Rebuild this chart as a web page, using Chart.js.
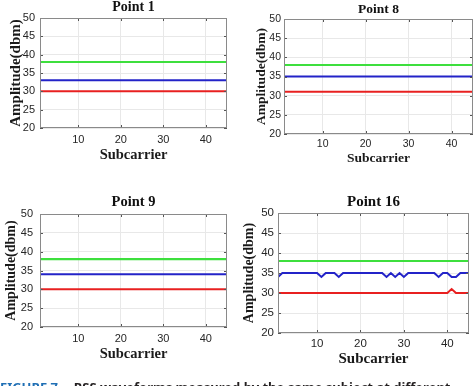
<!DOCTYPE html>
<html><head><meta charset="utf-8">
<script src="https://cdn.jsdelivr.net/npm/chart.js@4.4.0/dist/chart.umd.min.js"></script>
<style>
html,body{margin:0;padding:0;background:#fff;}
body{width:474px;height:386px;position:relative;overflow:hidden;}
canvas{position:absolute;left:0;top:0;}
#cap{position:absolute;left:0;top:379px;white-space:nowrap;font-family:"Noto Sans";font-weight:bold;font-size:13px;line-height:16px;color:#231f20;}
#cap .fig{color:#1f6fb5;margin-right:12px;}
</style></head><body>
<canvas id="c0" width="474" height="386"></canvas>
<canvas id="c1" width="474" height="386"></canvas>
<canvas id="c2" width="474" height="386"></canvas>
<canvas id="c3" width="474" height="386"></canvas>
<div id="cap"><span class="fig">FIGURE 7.</span>RSS waveforms measured by the same subject at different</div>
<script>
// ---------- DATA ----------
const subcarriers = [1,2,3,4,5,6,7,8,9,10,11,12,13,14,15,16,17,18,19,20,21,22,23,24,25,26,27,28,29,30,31,32,33,34,35,36,37,38,39,40,41,42,43,44,45];
const xTickValues = [10,20,30,40];
const yTickValues = [20,25,30,35,40,45,50];
const chartTitles = ['Point 1','Point 8','Point 9','Point 16'];
const xAxisTitle = 'Subcarrier';
const yAxisTitle = 'Amplitude(dbm)';

const point1Green = [38,38,38,38,38,38,38,38,38,38,38,38,38,38,38,38,38,38,38,38,38,38,38,38,38,38,38,38,38,38,38,38,38,38,38,38,38,38,38,38,38,38,38,38,38];
const point1Blue  = [33,33,33,33,33,33,33,33,33,33,33,33,33,33,33,33,33,33,33,33,33,33,33,33,33,33,33,33,33,33,33,33,33,33,33,33,33,33,33,33,33,33,33,33,33];
const point1Red   = [30,30,30,30,30,30,30,30,30,30,30,30,30,30,30,30,30,30,30,30,30,30,30,30,30,30,30,30,30,30,30,30,30,30,30,30,30,30,30,30,30,30,30,30,30];

const point8Green = [38,38,38,38,38,38,38,38,38,38,38,38,38,38,38,38,38,38,38,38,38,38,38,38,38,38,38,38,38,38,38,38,38,38,38,38,38,38,38,38,38,38,38,38,38];
const point8Blue  = [35,35,35,35,35,35,35,35,35,35,35,35,35,35,35,35,35,35,35,35,35,35,35,35,35,35,35,35,35,35,35,35,35,35,35,35,35,35,35,35,35,35,35,35,35];
const point8Red   = [31,31,31,31,31,31,31,31,31,31,31,31,31,31,31,31,31,31,31,31,31,31,31,31,31,31,31,31,31,31,31,31,31,31,31,31,31,31,31,31,31,31,31,31,31];

const point9Green = [38,38,38,38,38,38,38,38,38,38,38,38,38,38,38,38,38,38,38,38,38,38,38,38,38,38,38,38,38,38,38,38,38,38,38,38,38,38,38,38,38,38,38,38,38];
const point9Blue  = [34,34,34,34,34,34,34,34,34,34,34,34,34,34,34,34,34,34,34,34,34,34,34,34,34,34,34,34,34,34,34,34,34,34,34,34,34,34,34,34,34,34,34,34,34];
const point9Red   = [30,30,30,30,30,30,30,30,30,30,30,30,30,30,30,30,30,30,30,30,30,30,30,30,30,30,30,30,30,30,30,30,30,30,30,30,30,30,30,30,30,30,30,30,30];

const point16Green = [38,38,38,38,38,38,38,38,38,38,38,38,38,38,38,38,38,38,38,38,38,38,38,38,38,38,38,38,38,38,38,38,38,38,38,38,38,38,38,38,38,38,38,38,38];
const point16Blue  = [34,35,35,35,35,35,35,35,35,35,34,35,35,35,34,35,35,35,35,35,35,35,35,35,35,34,35,34,35,34,35,35,35,35,35,35,35,34,35,35,34,34,35,35,35];
const point16Red   = [30,30,30,30,30,30,30,30,30,30,30,30,30,30,30,30,30,30,30,30,30,30,30,30,30,30,30,30,30,30,30,30,30,30,30,30,30,30,30,30,31,30,30,30,30];

const seriesByChart = [
  [point1Green, point1Blue, point1Red],
  [point8Green, point8Blue, point8Red],
  [point9Green, point9Blue, point9Red],
  [point16Green, point16Blue, point16Red]
];

// ---------- STYLE / LAYOUT ----------
const lineColors = ['#3ddf3d', '#2323c8', '#e82020'];
const lineWidths = [2.2, 2, 2];
const W = 474, H = 386;
const geo = [
  {plot:[40,18,227,128],  titleY:7,   yTitleX:16,   yPad:5,   xTickY:139.5, xTitleY:155.5, tf:14,   yf:15,   xf:14.5, tk:11},
  {plot:[284,19,473,134], titleY:10,  yTitleX:262,  yPad:3,   xTickY:144,   xTitleY:158.3, tf:13.5, yf:13.5, xf:13.5, tk:10.5},
  {plot:[40,214,227,327], titleY:202, yTitleX:11.5, yPad:7,   xTickY:338.8, xTitleY:354.3, tf:14.5, yf:14,   xf:14.5, tk:11},
  {plot:[278,213,469,333],titleY:202, yTitleX:249,  yPad:4,   xTickY:344,   xTitleY:358.7, tf:15,   yf:14,   xf:15,   tk:11.5}
];
const serif = 'Liberation Serif';
const sans = 'Liberation Sans';

const boxPlugin = {
  id: 'matlabBox',
  afterDraw(chart) {
    const ctx = chart.ctx;
    const a = chart.chartArea;
    const l = Math.round(a.left), t = Math.round(a.top), r = Math.round(a.right), b = Math.round(a.bottom);
    ctx.save();
    ctx.strokeStyle = '#555';
    ctx.lineWidth = 1;
    ctx.beginPath();
    const xs = chart.scales.x, ys = chart.scales.y;
    xs.ticks.forEach(tk => {
      const px = Math.round(xs.getPixelForValue(tk.value)) + 0.5;
      ctx.moveTo(px, b); ctx.lineTo(px, b - 3);
      ctx.moveTo(px, t); ctx.lineTo(px, t + 3);
    });
    ys.ticks.forEach(tk => {
      const py = Math.round(ys.getPixelForValue(tk.value)) + 0.5;
      ctx.moveTo(l, py); ctx.lineTo(l + 3, py);
      ctx.moveTo(r, py); ctx.lineTo(r - 3, py);
    });
    ctx.stroke();
    ctx.strokeStyle = '#8a8a8a';
    ctx.strokeRect(l + 0.5, t + 0.5, r - l - 1, b - t - 1);
    ctx.restore();
  }
};

seriesByChart.forEach((series, i) => {
  const g = geo[i];
  const [pl, pt, pr, pb] = g.plot;
  const padLeft = g.yTitleX - g.yf / 2;
  const yW = pl - padLeft;
  const tickLH = g.tk * 1.2;
  const xTickPad = g.xTickY - pb - tickLH / 2;
  const xBottom = g.xTitleY + g.xf / 2;
  const xH = xBottom - pb;
  const padBottom = H - xBottom;
  const padTop = Math.max(0, g.titleY - g.tf / 2);
  const topH = pt - padTop;
  const padRight = W - pr;

  new Chart(document.getElementById('c' + i), {
    type: 'line',
    data: {
      labels: subcarriers,
      datasets: series.map((d, k) => ({
        data: d,
        borderColor: lineColors[k],
        borderWidth: lineWidths[k],
        pointRadius: 0,
        tension: 0,
        fill: false
      }))
    },
    options: {
      responsive: false,
      animation: false,
      events: [],
      layout: {padding: {left: padLeft, right: padRight, top: padTop, bottom: padBottom}},
      plugins: {legend: {display: false}, tooltip: {enabled: false}, title: {display: false}},
      scales: {
        x: {
          type: 'linear', position: 'bottom', min: 1, max: 45,
          afterBuildTicks: s => { s.ticks = xTickValues.map(v => ({value: v})); },
          afterFit: s => { s.height = xH; },
          grid: {color: '#e8e8e8', drawTicks: false},
          border: {display: false},
          ticks: {padding: xTickPad, color: '#262626', autoSkip: false, maxRotation: 0,
                  font: {family: sans, size: g.tk}},
          title: {display: true, text: xAxisTitle, color: '#1a1a1a', padding: 0,
                  font: {family: serif, weight: 'bold', size: g.xf, lineHeight: 1}}
        },
        xt: {
          type: 'linear', position: 'top', min: 1, max: 45,
          afterFit: s => { s.height = topH; },
          grid: {display: false, drawTicks: false},
          border: {display: false},
          ticks: {display: false},
          title: {display: true, text: chartTitles[i], color: '#111', padding: 0,
                  font: {family: serif, weight: 'bold', size: g.tf, lineHeight: 1}}
        },
        y: {
          type: 'linear', position: 'left', min: 20, max: 50,
          afterBuildTicks: s => { s.ticks = yTickValues.map(v => ({value: v})); },
          afterFit: s => { s.width = yW; },
          grid: {color: '#e8e8e8', drawTicks: false},
          border: {display: false},
          ticks: {padding: g.yPad, color: '#262626', font: {family: sans, size: g.tk}},
          title: {display: true, text: yAxisTitle, color: '#1a1a1a', padding: 0,
                  font: {family: serif, weight: 'bold', size: g.yf, lineHeight: 1}}
        }
      }
    },
    plugins: [boxPlugin]
  });
});
</script>
</body></html>
